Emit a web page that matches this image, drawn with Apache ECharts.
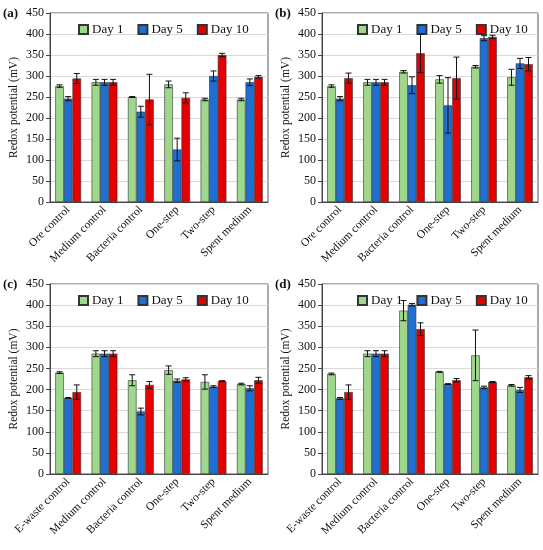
<!DOCTYPE html>
<html>
<head>
<meta charset="utf-8">
<script src="https://cdn.jsdelivr.net/npm/echarts@6/dist/echarts.min.js"></script>
<style>html,body{margin:0;padding:0;background:#fff}#main{width:543px;height:550px}</style>
</head>
<body>
<div id="main"></div>
<script>
// categories
const catsTop = ["Ore control", "Medium control", "Bacteria control", "One-step", "Two-step", "Spent medium"];
const catsBottom = ["E-waste control", "Medium control", "Bacteria control", "One-step", "Two-step", "Spent medium"];
const days = ["Day 1", "Day 5", "Day 10"];
const colors = ["#9fd88c", "#1f6fd2", "#e40000"];

// panel (a) values and errors
const aDay1 = [276, 285, 250, 280, 244, 244];
const aDay5 = [246, 285, 215, 125, 300, 285];
const aDay10 = [294, 285, 244, 248, 350, 298];
const aErr1 = [3, 7, 1, 8, 3, 3];
const aErr5 = [5, 7, 13, 27, 12, 8];
const aErr10 = [12, 7, 60, 12, 4, 3];
// panel (b)
const bDay1 = [276, 285, 310, 292, 322, 297];
const bDay5 = [246, 285, 278, 230, 390, 330];
const bDay10 = [295, 285, 354, 295, 393, 328];
const bErr1 = [3, 7, 3, 9, 3, 19];
const bErr5 = [5, 7, 20, 66, 6, 12];
const bErr10 = [12, 7, 46, 50, 4, 16];
// panel (c)
const cDay1 = [240, 285, 222, 246, 218, 213];
const cDay5 = [180, 285, 148, 221, 207, 203];
const cDay10 = [194, 285, 211, 224, 220, 222];
const cErr1 = [2, 7, 13, 10, 17, 2];
const cErr5 = [1, 7, 8, 4, 2, 6];
const cErr10 = [17, 7, 8, 4, 1, 7];
// panel (d)
const dDay1 = [237, 285, 387, 242, 281, 210];
const dDay5 = [179, 285, 401, 213, 205, 199];
const dDay10 = [194, 285, 343, 222, 218, 229];
const dErr1 = [2, 7, 24, 1, 60, 2];
const dErr5 = [2, 7, 3, 1, 3, 6];
const dErr10 = [17, 7, 15, 4, 1, 4];

const panels = [
  { label: "(a)", cats: catsTop, vals: [aDay1, aDay5, aDay10], errs: [aErr1, aErr5, aErr10] },
  { label: "(b)", cats: catsTop, vals: [bDay1, bDay5, bDay10], errs: [bErr1, bErr5, bErr10] },
  { label: "(c)", cats: catsBottom, vals: [cDay1, cDay5, cDay10], errs: [cErr1, cErr5, cErr10] },
  { label: "(d)", cats: catsBottom, vals: [dDay1, dDay5, dDay10], errs: [dErr1, dErr5, dErr10] }
];
const boxes = [
  { left: 50, top: 13, width: 218, height: 189 },
  { left: 322, top: 13, width: 216, height: 189 },
  { left: 50, top: 284, width: 218, height: 190 },
  { left: 322, top: 284, width: 216, height: 190 }
];
const font = "Liberation Serif";
const catGap = 0.29;

let grid = [], xAxis = [], yAxis = [], series = [], legend = [], graphic = [];
panels.forEach((p, g) => {
  const b = boxes[g];
  grid.push({ left: b.left, top: b.top, width: b.width, height: b.height, show: true, borderColor: "#555", borderWidth: 1 });
  xAxis.push({
    type: "category", gridIndex: g, data: p.cats,
    axisTick: { interval: 0, length: 4, lineStyle: { color: "#444" } },
    axisLine: { lineStyle: { color: "#444" } },
    axisLabel: { interval: 0, rotate: 45, fontFamily: font, fontSize: 11.5, color: "#111", margin: 6 }
  });
  yAxis.push({
    type: "value", gridIndex: g, min: 0, max: 450, interval: 50,
    name: "Redox potential (mV)", nameLocation: "middle", nameGap: 30,
    nameTextStyle: { fontFamily: font, fontSize: 11.5, color: "#111" },
    axisLine: { show: true, lineStyle: { color: "#444" } },
    axisTick: { show: true, length: 4, lineStyle: { color: "#444" } },
    axisLabel: { fontFamily: font, fontSize: 12, color: "#111", margin: 6 },
    splitLine: { lineStyle: { color: "#d9d9d9" } }
  });
  days.forEach((d, s) => {
    series.push({
      name: d, type: "bar", xAxisIndex: g, yAxisIndex: g, data: p.vals[s],
      barGap: "0%", barCategoryGap: (catGap * 100) + "%",
      itemStyle: { color: colors[s], borderColor: "#333", borderWidth: 0.6 }
    });
  });
  days.forEach((d, s) => {
    series.push({
      type: "custom", xAxisIndex: g, yAxisIndex: g, z: 10,
      data: p.vals[s].map((v, i) => [i, v, p.errs[s][i]]),
      encode: { x: 0, y: 1 },
      renderItem: function (params, api) {
        const band = api.size([1, 0])[0];
        const bw = band * (1 - catGap) / 3;
        const c = api.coord([api.value(0), api.value(1)]);
        const x = c[0] + (s - 1) * bw;
        const hi = api.coord([0, api.value(1) + api.value(2)])[1];
        const lo = api.coord([0, api.value(1) - api.value(2)])[1];
        const st = { stroke: "#111", lineWidth: 1 };
        return { type: "group", children: [
          { type: "line", shape: { x1: x, y1: hi, x2: x, y2: lo }, style: st },
          { type: "line", shape: { x1: x - 3, y1: hi, x2: x + 3, y2: hi }, style: st },
          { type: "line", shape: { x1: x - 3, y1: lo, x2: x + 3, y2: lo }, style: st }
        ] };
      }
    });
  });
  legend.push({
    data: days, top: b.top + 5, left: b.left + b.width / 2 - 86 + (g % 2 ? 8 : 0),
    itemWidth: 9, itemHeight: 9, itemGap: 14, icon: "rect",
    textStyle: { fontFamily: font, fontSize: 13, color: "#111", padding: [0, 0, 0, -1] }
  });
  graphic.push({
    type: "text", left: b.left - 47, top: b.top - 6,
    style: { text: p.label, font: "bold 13px " + font, fill: "#111" }
  });
});

const chart = echarts.init(document.getElementById("main"));
chart.setOption({
  animation: false,
  grid: grid, xAxis: xAxis, yAxis: yAxis, series: series, legend: legend, graphic: graphic
});
</script>
</body>
</html>
